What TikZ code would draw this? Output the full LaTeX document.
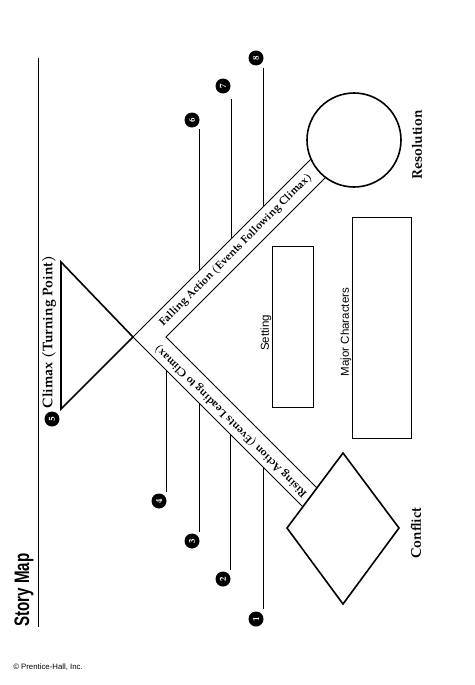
\documentclass[tikz,border=0pt]{standalone}
\usepackage{fontspec}
\setmainfont{texgyrepagella}[Extension=.otf,UprightFont=*-regular,BoldFont=*-bold,ItalicFont=*-italic,BoldItalicFont=*-bolditalic]
\setsansfont{Liberation Sans}
\begin{document}
\begin{tikzpicture}[x=1pt,y=-1pt,
  thinline/.style={line width=0.8pt},
  shapeline/.style={line width=1.6pt, line join=miter},
  marker/.style={circle, fill=black, minimum size=15pt, inner sep=0pt, text=white,
    font=\bfseries\fontsize{9}{9}\selectfont, rotate=90},
  bandlabel/.style={font=\bfseries\fontsize{11}{11}\selectfont, inner sep=0pt},
  biglabel/.style={font=\bfseries\fontsize{14}{14}\selectfont, inner sep=0pt, rotate=90},
  boxlabel/.style={font=\sffamily\fontsize{11.5}{11.5}\selectfont, inner sep=0pt, rotate=90},
  infobox/.style={draw, line width=0.8pt, inner sep=0pt}]
\useasboundingbox (0,0) rectangle (474,685);

% title rule and title
\coordinate (ruleTop) at (38,58);
\coordinate (ruleBot) at (38,627);
\draw[line width=0.9pt] (ruleTop) -- (ruleBot);
\node[inner sep=0pt, rotate=90, font=\sffamily\bfseries\fontsize{21}{21}\selectfont] (title) at (24,590) {\scalebox{0.72}[1]{Story Map}};
\node[inner sep=0pt, font=\sffamily\fontsize{7.8}{7.8}\selectfont] (copy) at (48,667) {© Prentice-Hall, Inc.};

% key points of the plot lines
\coordinate (T1) at (61,262);
\coordinate (T2) at (61,409);
\coordinate (C) at (133,337);
\coordinate (V) at (166,337);
\coordinate (Fo) at (333,137);
\coordinate (Fi) at (346,157);
\coordinate (Ro) at (323,527);
\coordinate (Ri) at (336,507);

% bands
\draw[thinline] (C) -- (Fo);
\draw[thinline] (C) -- (Ro);
\draw[thinline] (Fi) -- (V) -- (Ri);

% climax triangle
\draw[shapeline] (T1) -- (C) -- (T2) -- cycle;

% resolution circle
\node[circle, draw, fill=white, line width=1.6pt, minimum size=94pt, inner sep=0pt] (res) at (354,140) {};

% conflict diamond
\coordinate (dT) at (343,453);
\coordinate (dR) at (399,528);
\coordinate (dB) at (343,604);
\coordinate (dL) at (287,528);
\draw[shapeline, fill=white] (dT) -- (dR) -- (dB) -- (dL) -- cycle;

% band labels
\node[bandlabel, rotate=45] (falling) at (236,250) {Falling Action (Events Following Climax)};
\node[bandlabel, rotate=135] (rising) at (231,421) {Rising Action (Events Leading to Climax)};

% shape labels
\node[marker] (m5) at (52,419) {5};
\node[biglabel] (climax) at (49,332) {Climax (Turning Point)};
\node[biglabel] (resol) at (417,145) {Resolution};
\node[biglabel] (confl) at (416,533) {Conflict};

% boxes
\node[infobox, minimum width=41pt, minimum height=161pt] (setbox) at (292.5,326.5) {};
\node[boxlabel] (setlbl) at (266,333) {Setting};
\node[infobox, minimum width=59pt, minimum height=221pt] (charbox) at (381.5,327.5) {};
\node[boxlabel] (charlbl) at (346,332) {Major Characters};

% event lines, rising
\coordinate (a1) at (263,467); \coordinate (e1) at (263,609);
\coordinate (a2) at (230,434); \coordinate (e2) at (230,570);
\coordinate (a3) at (199,403); \coordinate (e3) at (199,532);
\coordinate (a4) at (166,370); \coordinate (e4) at (166,492);
\draw[thinline] (a1) -- (e1);
\draw[thinline] (a2) -- (e2);
\draw[thinline] (a3) -- (e3);
\draw[thinline] (a4) -- (e4);
\node[marker] (m1) at (256,619) {1};
\node[marker] (m2) at (223,579) {2};
\node[marker] (m3) at (192,541) {3};
\node[marker] (m4) at (159,501) {4};

% event lines, falling
\coordinate (a6) at (199,271); \coordinate (e6) at (199,129);
\coordinate (a7) at (231,239); \coordinate (e7) at (231,99);
\coordinate (a8) at (263,207); \coordinate (e8) at (263,68);
\draw[thinline] (a6) -- (e6);
\draw[thinline] (a7) -- (e7);
\draw[thinline] (a8) -- (e8);
\node[marker] (m6) at (192,120) {6};
\node[marker] (m7) at (223,86) {7};
\node[marker] (m8) at (256,58) {8};
\end{tikzpicture}
\end{document}
